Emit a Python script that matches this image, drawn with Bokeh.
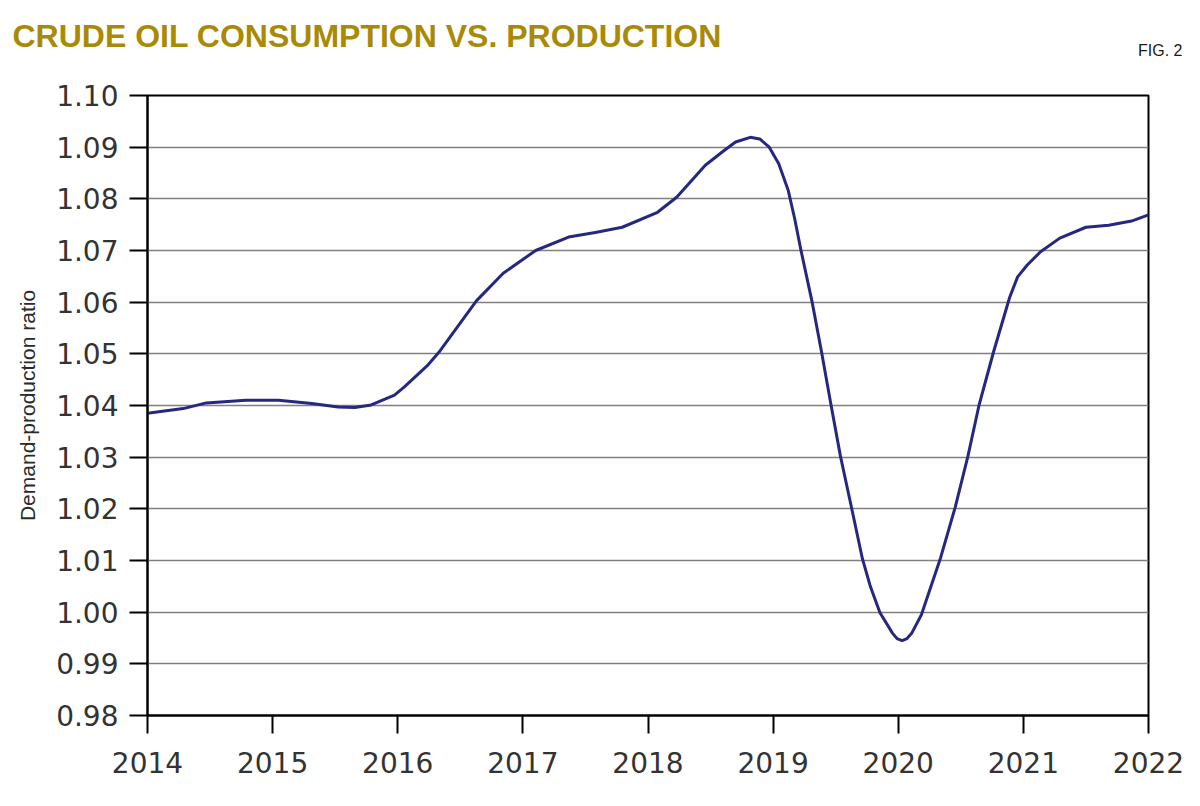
from bokeh.plotting import figure
from bokeh.layouts import column
from bokeh.models import FixedTicker, Range1d, NumeralTickFormatter
from bokeh.core.properties import value
from bokeh.embed import file_html
from bokeh.resources import INLINE

# ---- data ----
years = [2014.0, 2014.286, 2014.47, 2014.785, 2015.048, 2015.313, 2015.524, 2015.656,
         2015.788, 2015.974, 2016.053, 2016.236, 2016.339, 2016.630, 2016.843, 2017.102,
         2017.365, 2017.579, 2017.794, 2018.076, 2018.229, 2018.458, 2018.611, 2018.70,
         2018.817, 2018.893, 2018.969, 2019.045, 2019.121, 2019.172, 2019.222, 2019.311,
         2019.386, 2019.462, 2019.538, 2019.626, 2019.714, 2019.778, 2019.854, 2019.955,
         2019.99, 2020.031, 2020.07, 2020.107, 2020.185, 2020.338, 2020.454, 2020.556,
         2020.646, 2020.762, 2020.890, 2020.954, 2021.031, 2021.135, 2021.291, 2021.500,
         2021.682, 2021.864, 2022.0]
ratio = [1.0385, 1.0394, 1.0405, 1.0410, 1.0410, 1.0404, 1.0397, 1.0396,
         1.0401, 1.0420, 1.0436, 1.0477, 1.0506, 1.0603, 1.0656, 1.0700,
         1.0726, 1.0735, 1.0745, 1.0774, 1.0803, 1.0865, 1.0894, 1.0910,
         1.0919, 1.0916, 1.0900, 1.0868, 1.0816, 1.0762, 1.0701, 1.0601,
         1.0505, 1.0402, 1.0302, 1.0203, 1.0103, 1.0049, 0.9999, 0.9959,
         0.9949, 0.9945, 0.9949, 0.9959, 0.9995, 1.0105, 1.0202, 1.0301,
         1.0401, 1.0504, 1.0609, 1.0649, 1.0672, 1.0697, 1.0724, 1.0745,
         1.0749, 1.0757, 1.0769]
x_ticks = [2014, 2015, 2016, 2017, 2018, 2019, 2020, 2021, 2022]
y_ticks = [0.98, 0.99, 1.00, 1.01, 1.02, 1.03, 1.04, 1.05, 1.06, 1.07, 1.08, 1.09, 1.10]

title_text = "CRUDE OIL CONSUMPTION VS. PRODUCTION"
fig_text = "FIG. 2"
y_label = "Demand-production ratio"

TICK_FONT = "DejaVu Sans"
HEAD_FONT = "Liberation Sans"

W = 1184
HEAD_H = 70
MAIN_H = 720

# ---- header strip holding the title and figure number ----
head = figure(width=W, height=HEAD_H, output_backend="svg", toolbar_location=None,
              x_range=Range1d(0, W), y_range=Range1d(HEAD_H, 0),
              min_border=0, min_border_left=0, min_border_right=0,
              min_border_top=0, min_border_bottom=0)
head.frame_align = False
head.axis.visible = False
head.grid.grid_line_color = None
head.outline_line_color = None
head.background_fill_color = "white"
head.border_fill_color = "white"
head.text(x=[12], y=[35], text=[title_text], text_font=value(HEAD_FONT),
          text_font_size="32px", text_font_style="bold", text_color="#a88a06",
          text_baseline="middle", text_align="left")
head.text(x=[1182], y=[50], text=[fig_text], text_font=value(HEAD_FONT),
          text_font_size="16px", text_color="#1a1a1a",
          text_baseline="middle", text_align="right")

# ---- main chart ----
p = figure(width=W, height=MAIN_H, output_backend="svg", toolbar_location=None,
           x_range=Range1d(2014, 2022), y_range=Range1d(0.98, 1.10),
           min_border_left=147, min_border_right=36, min_border_top=95 - HEAD_H,
           min_border_bottom=75)
p.frame_align = False
p.background_fill_color = "white"
p.border_fill_color = "white"
p.outline_line_color = "black"
p.outline_line_width = 2

p.line(years, ratio, line_color="#26287f", line_width=3, line_join="round")

for ax in (p.xaxis[0], p.yaxis[0]):
    ax.axis_line_color = "black"
    ax.axis_line_width = 2
    ax.major_tick_line_color = "black"
    ax.major_tick_line_width = 2
    ax.major_tick_in = 0
    ax.major_tick_out = 18
    ax.minor_tick_line_color = None
    ax.major_label_text_font = TICK_FONT
    ax.major_label_text_font_size = "28px"
    ax.major_label_text_color = "#333333"

p.xaxis.ticker = FixedTicker(ticks=x_ticks)
p.xaxis.major_label_standoff = 18
p.yaxis.ticker = FixedTicker(ticks=y_ticks)
p.yaxis.formatter = NumeralTickFormatter(format="0.00")
p.yaxis.major_label_standoff = 11
p.yaxis.axis_label = y_label
p.yaxis.axis_label_text_font = HEAD_FONT
p.yaxis.axis_label_text_font_size = "21px"
p.yaxis.axis_label_text_font_style = "normal"
p.yaxis.axis_label_text_color = "#2a2a2a"
p.yaxis.axis_label_standoff = 14

p.xgrid.grid_line_color = None
p.ygrid.grid_line_color = "#808080"
p.ygrid.grid_line_width = 1.5
p.ygrid.ticker = FixedTicker(ticks=y_ticks)

layout = column(head, p, spacing=0)
open("out.html", "w").write(file_html(layout, INLINE))
